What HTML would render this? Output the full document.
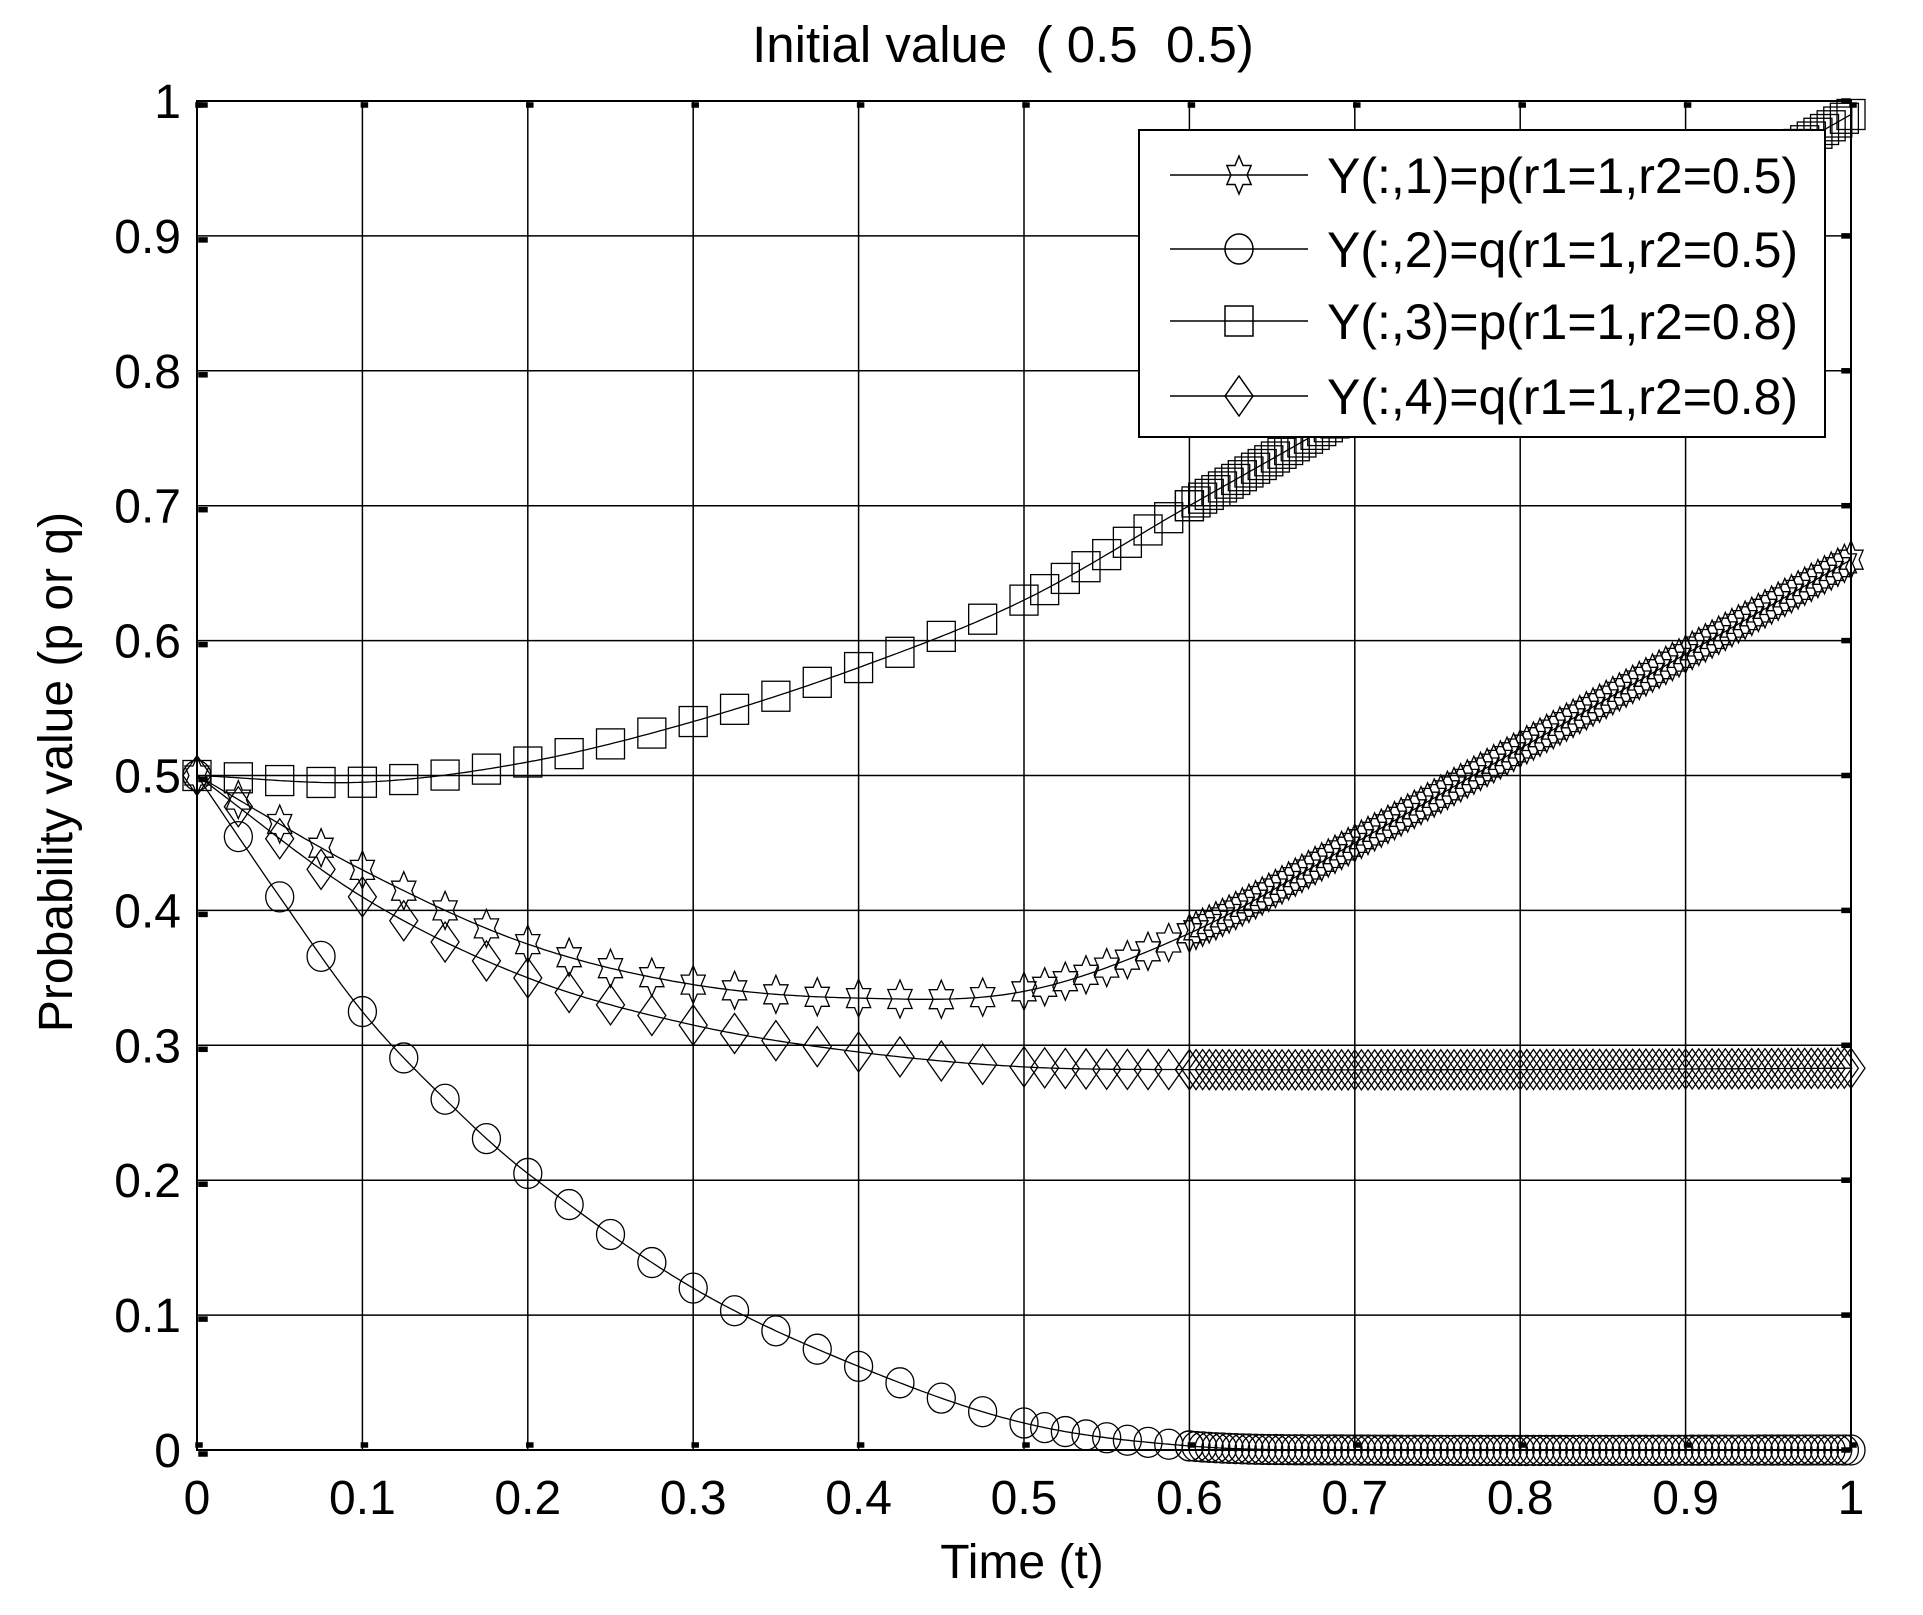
<!DOCTYPE html>
<html><head><meta charset="utf-8"><style>
html,body{margin:0;padding:0;background:#fff;}
svg{display:block;}
text{font-family:"Liberation Sans",Arial,sans-serif;fill:#000;white-space:pre;}
</style></head><body>
<svg id="s" width="1923" height="1615" viewBox="0 0 1923 1615" xmlns="http://www.w3.org/2000/svg" xml:space="preserve">
<rect width="1923" height="1615" fill="#fff"/>
<g id="grid" stroke="#000" stroke-width="1.5" fill="none"></g>
<g id="series" stroke="#000" stroke-width="1.3" fill="none"></g>
<rect x="197" y="101" width="1654" height="1349" fill="none" stroke="#000" stroke-width="2"/>
<text x="1003" y="62" font-size="51" text-anchor="middle">Initial value  ( 0.5  0.5)</text>
<g id="yl" font-size="48" text-anchor="end"></g>
<g id="xl" font-size="48" text-anchor="middle"></g>
<text x="1022" y="1578" font-size="48" text-anchor="middle">Time (t)</text>
<text transform="translate(72,772) rotate(-90)" font-size="48" text-anchor="middle">Probability value (p or q)</text>
<g id="legend">
<rect x="1139" y="130" width="686" height="307" fill="#fff" stroke="#000" stroke-width="2"/>
<g stroke="#000" stroke-width="1.5" fill="none" id="legmarks">
<line x1="1170" y1="175" x2="1308" y2="175"/><line x1="1170" y1="249" x2="1308" y2="249"/>
<line x1="1170" y1="321" x2="1308" y2="321"/><line x1="1170" y1="396" x2="1308" y2="396"/>
</g>
<g font-size="50">
<text x="1327" y="193">Y(:,1)=p(r1=1,r2=0.5)</text>
<text x="1327" y="267">Y(:,2)=q(r1=1,r2=0.5)</text>
<text x="1327" y="339">Y(:,3)=p(r1=1,r2=0.8)</text>
<text x="1327" y="414">Y(:,4)=q(r1=1,r2=0.8)</text>
</g>
</g>
</svg>
<script>
var NS="http://www.w3.org/2000/svg";
function X(t){return 197+t*1654;} function Y(v){return 1450-v*1349;}
function el(p,n,a){var e=document.createElementNS(NS,n);for(var k in a)e.setAttribute(k,a[k]);p.appendChild(e);return e;}
var g=document.getElementById('grid');
for(var i=1;i<10;i++){el(g,'line',{x1:X(i/10),y1:101,x2:X(i/10),y2:1450});el(g,'line',{x1:197,y1:Y(i/10),x2:1851,y2:Y(i/10)});}
for(var i=0;i<=10;i++){el(g,'rect',{x:X(i/10)-1,y:103,width:6,height:4,fill:'#000'});el(g,'rect',{x:X(i/10)-1,y:1443,width:6,height:4,fill:'#000'});
 el(g,'rect',{x:199,y:Y(i/10)+2,width:8,height:4,fill:'#000'});el(g,'rect',{x:1842,y:Y(i/10)-2,width:8,height:4,fill:'#000'});}
var labs=['0','0.1','0.2','0.3','0.4','0.5','0.6','0.7','0.8','0.9','1'];
var yl=document.getElementById('yl'),xl=document.getElementById('xl');
labs.forEach(function(s,i){el(yl,'text',{x:181,y:Y(i/10)+17}).textContent=s;el(xl,'text',{x:X(i/10),y:1514}).textContent=s;});
var D={
s1:[[0,.5],[.1,.43],[.2,.375],[.3,.345],[.4,.335],[.5,.34],[.6,.383],[.7,.45],[.8,.52],[.9,.59],[1,.66]],
s2:[[0,.5],[.05,.41],[.1,.325],[.15,.26],[.2,.205],[.3,.12],[.4,.062],[.5,.02],[.6,.003],[.7,0],[1,0]],
s3:[[0,.5],[.1,.495],[.2,.51],[.3,.54],[.4,.58],[.5,.63],[.6,.7],[.7,.77],[.8,.845],[.9,.92],[1,.99]],
s4:[[0,.5],[.1,.41],[.2,.35],[.3,.315],[.4,.295],[.5,.284],[.6,.282],[.8,.282],[1,.283]]};
function f(d,t){for(var i=0;i<d.length-1;i++){if(t<=d[i+1][0]){var p0=d[Math.max(i-1,0)],p1=d[i],p2=d[i+1],p3=d[Math.min(i+2,d.length-1)];
 var u=(t-p1[0])/(p2[0]-p1[0]);var m1=(p2[1]-p0[1])/(p2[0]-p0[0]||1),m2=(p3[1]-p1[1])/(p3[0]-p1[0]||1);var h=p2[0]-p1[0];
 var u2=u*u,u3=u2*u;return (2*u3-3*u2+1)*p1[1]+(u3-2*u2+u)*h*m1+(-2*u3+3*u2)*p2[1]+(u3-u2)*h*m2;}}return d[d.length-1][1];}
function mark(p,type,x,y){
 if(type=='c')el(p,'ellipse',{cx:x,cy:y,rx:14,ry:15});
 else if(type=='s')el(p,'rect',{x:x-14,y:y-15,width:28,height:30});
 else if(type=='d')el(p,'polygon',{points:(x-14)+','+y+' '+x+','+(y-20)+' '+(x+14)+','+y+' '+x+','+(y+20)});
 else {var a=[];for(var k=0;k<12;k++){var an=-Math.PI/2+k*Math.PI/6;var r=(k%2==0)?1:0.577;a.push((x+14*r*Math.cos(an)).toFixed(1)+','+(y+19*r*Math.sin(an)).toFixed(1));}
  el(p,'polygon',{points:a.join(' ')});}}
var sg=document.getElementById('series');
var ts=[];for(var t=0;t<0.5;t+=0.025)ts.push(t);for(t=0.5;t<0.6;t+=0.0125)ts.push(t);for(t=0.6;t<=1.0001;t+=0.004)ts.push(Math.min(t,1));
[['s1','t'],['s2','c'],['s3','s'],['s4','d']].forEach(function(s){var d=D[s[0]];var pts=[];for(var i=0;i<=400;i++){var t=i/400;pts.push(X(t).toFixed(1)+','+Y(f(d,t)).toFixed(1));}
 el(sg,'polyline',{points:pts.join(' ')});ts.forEach(function(t){mark(sg,s[1],X(t),Y(f(d,t)));});});
var lm=document.getElementById('legmarks');mark(lm,'t',1239,175);mark(lm,'c',1239,249);mark(lm,'s',1239,321);mark(lm,'d',1239,396);
</script>
</body></html>
